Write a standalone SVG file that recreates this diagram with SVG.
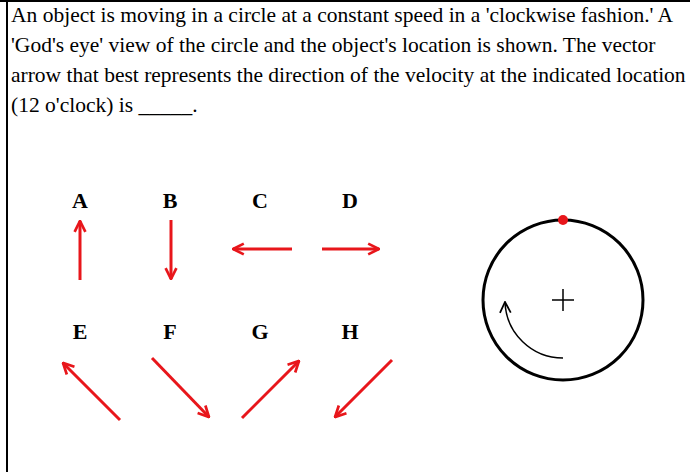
<svg xmlns="http://www.w3.org/2000/svg" width="700" height="472" viewBox="0 0 700 472">
<style>
.t{font-family:"Liberation Serif","Times New Roman",serif;font-size:21.5px;fill:#000}
.l{font-family:"Liberation Serif","Times New Roman",serif;font-size:22px;font-weight:bold;fill:#000;text-anchor:middle}
.a{stroke:#e8161b;stroke-width:3;fill:none;marker-end:url(#h)}
</style>
<defs>
<marker id="h" viewBox="0 0 10 10" refX="9" refY="5" markerWidth="4.5" markerHeight="4.5" orient="auto" markerUnits="strokeWidth">
<path d="M1,1 L9,5 L1,9" fill="none" stroke="#e8161b" stroke-width="2"/>
</marker>
<marker id="k" viewBox="0 0 10 10" refX="9" refY="5" markerWidth="9" markerHeight="9" orient="auto" markerUnits="strokeWidth">
<path d="M1,1 L9,5 L1,9" fill="none" stroke="#000" stroke-width="1.3"/>
</marker>
</defs>
<rect width="700" height="472" fill="#fff"/>
<line x1="0" y1="1" x2="690" y2="1" stroke="#000" stroke-width="2"/>
<line x1="7" y1="0" x2="7" y2="472" stroke="#000" stroke-width="2"/>
<g id="question">
<text class="t" x="11" y="22">An object is moving in a circle at a constant speed in a 'clockwise fashion.'  A</text>
<text class="t" x="11" y="52">'God's eye' view of the circle and the object's location is shown. The vector</text>
<text class="t" x="11" y="82">arrow that best represents the direction of the velocity at the indicated location</text>
<text class="t" x="11" y="112">(12 o'clock) is _____.</text>
</g>
<g id="labels">
<text class="l" x="80" y="208">A</text>
<text class="l" x="170" y="208">B</text>
<text class="l" x="260" y="208">C</text>
<text class="l" x="350" y="208">D</text>
<text class="l" x="80" y="339">E</text>
<text class="l" x="170" y="339">F</text>
<text class="l" x="260" y="339">G</text>
<text class="l" x="350" y="339">H</text>
</g>
<g id="connectors">
<line class="a" x1="80" y1="280" x2="80" y2="221"/>
<line class="a" x1="171" y1="220" x2="171" y2="279"/>
<line class="a" x1="292" y1="249" x2="233" y2="249"/>
<line class="a" x1="322" y1="249" x2="379" y2="249"/>
<line class="a" x1="120" y1="420" x2="63" y2="363"/>
<line class="a" x1="152" y1="358" x2="209" y2="417"/>
<line class="a" x1="242" y1="418" x2="299" y2="361"/>
<line class="a" x1="392" y1="360" x2="335" y2="417"/>
</g>
<g id="circle">
<circle cx="563" cy="300" r="80" fill="none" stroke="#000" stroke-width="3"/>
<circle cx="563" cy="220" r="5" fill="#e8161b"/>
<path d="M552,300 H574 M563,289 V311" stroke="#000" stroke-width="1.5"/>
<path d="M563,358 A58,58 0 0 1 505,302" fill="none" stroke="#000" stroke-width="1.5" marker-end="url(#k)"/>
</g>
</svg>
